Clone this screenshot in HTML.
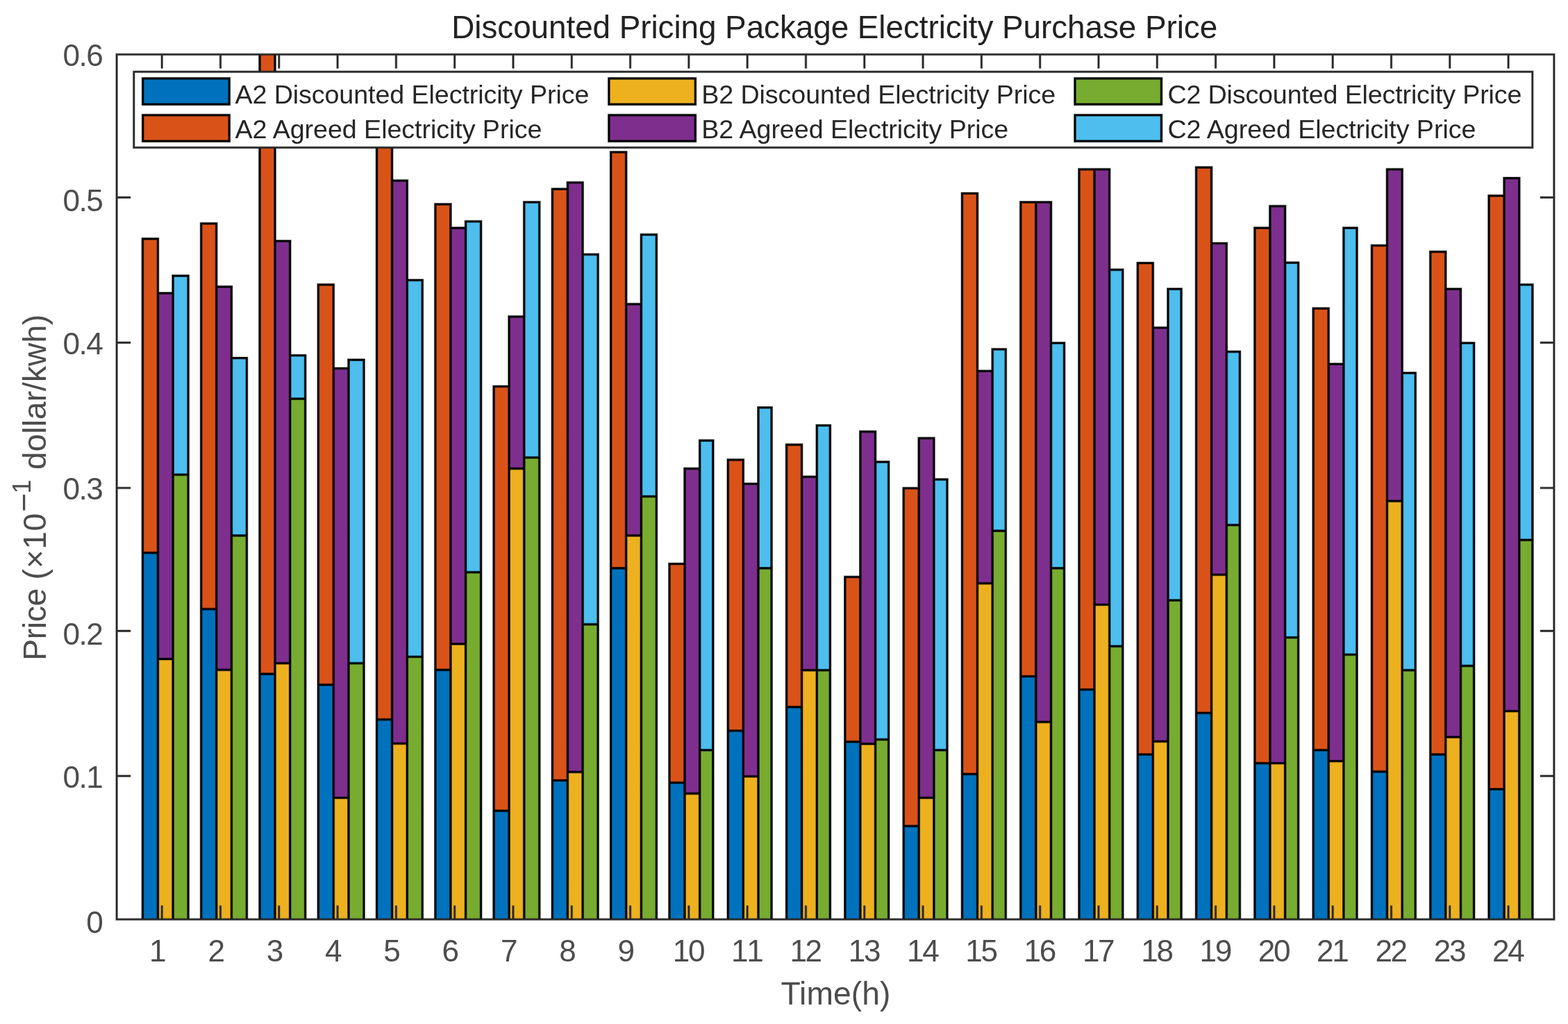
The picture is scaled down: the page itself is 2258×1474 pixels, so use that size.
<!DOCTYPE html>
<html lang="en"><head><meta charset="utf-8"><title>Discounted Pricing Package Electricity Purchase Price</title>
<style>html,body{margin:0;padding:0;background:#fff}body{width:2258px;height:1474px;overflow:hidden}svg{display:block;font-family:"Liberation Sans",sans-serif}</style>
</head><body>
<svg width="2258" height="1474" viewBox="0 0 2258 1474">
<rect width="2258" height="1474" fill="#fff"/>
<defs><clipPath id="ax"><rect x="168.1" y="78.4" width="2069.8" height="1245"/></clipPath></defs>
<g clip-path="url(#ax)">
<g>
<rect x="205.4" y="795.7" width="22" height="527.7" fill="#0072BD"/>
<rect x="205.4" y="343.8" width="22" height="451.9" fill="#D95319"/>
<rect x="227.4" y="948.6" width="21.7" height="374.8" fill="#EDB120"/>
<rect x="227.4" y="422" width="21.7" height="526.6" fill="#7E2F8E"/>
<rect x="249.1" y="683.3" width="22" height="640.1" fill="#77AC30"/>
<rect x="249.1" y="397" width="22" height="286.3" fill="#4DBEEE"/>
<rect x="289.7" y="876.7" width="22" height="446.7" fill="#0072BD"/>
<rect x="289.7" y="321.8" width="22" height="554.9" fill="#D95319"/>
<rect x="311.7" y="964.3" width="21.7" height="359.1" fill="#EDB120"/>
<rect x="311.7" y="412.7" width="21.7" height="551.6" fill="#7E2F8E"/>
<rect x="333.4" y="770.9" width="22" height="552.5" fill="#77AC30"/>
<rect x="333.4" y="515.4" width="22" height="255.5" fill="#4DBEEE"/>
<rect x="374" y="970.1" width="22" height="353.3" fill="#0072BD"/>
<rect x="374" y="40" width="22" height="930.1" fill="#D95319"/>
<rect x="396" y="954.7" width="21.7" height="368.7" fill="#EDB120"/>
<rect x="396" y="347" width="21.7" height="607.7" fill="#7E2F8E"/>
<rect x="417.7" y="574" width="22" height="749.4" fill="#77AC30"/>
<rect x="417.7" y="511.6" width="22" height="62.4" fill="#4DBEEE"/>
<rect x="458.3" y="985.8" width="22" height="337.6" fill="#0072BD"/>
<rect x="458.3" y="409.7" width="22" height="576.1" fill="#D95319"/>
<rect x="480.3" y="1148.4" width="21.7" height="175" fill="#EDB120"/>
<rect x="480.3" y="530.3" width="21.7" height="618.1" fill="#7E2F8E"/>
<rect x="502" y="954.7" width="22" height="368.7" fill="#77AC30"/>
<rect x="502" y="518" width="22" height="436.7" fill="#4DBEEE"/>
<rect x="542.6" y="1035.7" width="22" height="287.7" fill="#0072BD"/>
<rect x="542.6" y="160" width="22" height="875.7" fill="#D95319"/>
<rect x="564.6" y="1070.3" width="21.7" height="253.1" fill="#EDB120"/>
<rect x="564.6" y="260" width="21.7" height="810.3" fill="#7E2F8E"/>
<rect x="586.3" y="945.4" width="22" height="378" fill="#77AC30"/>
<rect x="586.3" y="403.3" width="22" height="542.1" fill="#4DBEEE"/>
<rect x="626.9" y="964.3" width="22" height="359.1" fill="#0072BD"/>
<rect x="626.9" y="294" width="22" height="670.3" fill="#D95319"/>
<rect x="648.9" y="926.9" width="21.7" height="396.5" fill="#EDB120"/>
<rect x="648.9" y="328.1" width="21.7" height="598.8" fill="#7E2F8E"/>
<rect x="670.6" y="823.7" width="22" height="499.7" fill="#77AC30"/>
<rect x="670.6" y="318.8" width="22" height="504.9" fill="#4DBEEE"/>
<rect x="711.1" y="1167.1" width="22" height="156.3" fill="#0072BD"/>
<rect x="711.1" y="556.3" width="22" height="610.8" fill="#D95319"/>
<rect x="733.1" y="674.5" width="21.7" height="648.9" fill="#EDB120"/>
<rect x="733.1" y="455.8" width="21.7" height="218.7" fill="#7E2F8E"/>
<rect x="754.8" y="658.6" width="22" height="664.8" fill="#77AC30"/>
<rect x="754.8" y="291" width="22" height="367.6" fill="#4DBEEE"/>
<rect x="795.4" y="1123.4" width="22" height="200" fill="#0072BD"/>
<rect x="795.4" y="272.1" width="22" height="851.3" fill="#D95319"/>
<rect x="817.4" y="1111.2" width="21.7" height="212.2" fill="#EDB120"/>
<rect x="817.4" y="262.7" width="21.7" height="848.5" fill="#7E2F8E"/>
<rect x="839.1" y="898.7" width="22" height="424.7" fill="#77AC30"/>
<rect x="839.1" y="366.2" width="22" height="532.5" fill="#4DBEEE"/>
<rect x="879.7" y="817.9" width="22" height="505.5" fill="#0072BD"/>
<rect x="879.7" y="219" width="22" height="598.9" fill="#D95319"/>
<rect x="901.7" y="770.9" width="21.7" height="552.5" fill="#EDB120"/>
<rect x="901.7" y="437.7" width="21.7" height="333.2" fill="#7E2F8E"/>
<rect x="923.4" y="714.6" width="22" height="608.8" fill="#77AC30"/>
<rect x="923.4" y="337.7" width="22" height="376.9" fill="#4DBEEE"/>
<rect x="964" y="1126.6" width="22" height="196.8" fill="#0072BD"/>
<rect x="964" y="811.6" width="22" height="315" fill="#D95319"/>
<rect x="986" y="1142.3" width="21.7" height="181.1" fill="#EDB120"/>
<rect x="986" y="674.5" width="21.7" height="467.8" fill="#7E2F8E"/>
<rect x="1007.7" y="1079.7" width="19.1" height="243.7" fill="#77AC30"/>
<rect x="1007.7" y="634.1" width="19.1" height="445.6" fill="#4DBEEE"/>
<rect x="1048.3" y="1051.9" width="22" height="271.5" fill="#0072BD"/>
<rect x="1048.3" y="661.9" width="22" height="390" fill="#D95319"/>
<rect x="1070.3" y="1117.6" width="21.7" height="205.8" fill="#EDB120"/>
<rect x="1070.3" y="696.4" width="21.7" height="421.2" fill="#7E2F8E"/>
<rect x="1092" y="817.9" width="19.1" height="505.5" fill="#77AC30"/>
<rect x="1092" y="586.6" width="19.1" height="231.3" fill="#4DBEEE"/>
<rect x="1132.6" y="1017.8" width="22" height="305.6" fill="#0072BD"/>
<rect x="1132.6" y="640.1" width="22" height="377.7" fill="#D95319"/>
<rect x="1154.6" y="964.8" width="21.7" height="358.6" fill="#EDB120"/>
<rect x="1154.6" y="686.3" width="21.7" height="278.5" fill="#7E2F8E"/>
<rect x="1176.3" y="964.8" width="19.1" height="358.6" fill="#77AC30"/>
<rect x="1176.3" y="612.4" width="19.1" height="352.4" fill="#4DBEEE"/>
<rect x="1216.9" y="1067.8" width="22" height="255.6" fill="#0072BD"/>
<rect x="1216.9" y="830.5" width="22" height="237.3" fill="#D95319"/>
<rect x="1238.9" y="1070.8" width="21.7" height="252.6" fill="#EDB120"/>
<rect x="1238.9" y="621.2" width="21.7" height="449.6" fill="#7E2F8E"/>
<rect x="1260.6" y="1064.5" width="19.1" height="258.9" fill="#77AC30"/>
<rect x="1260.6" y="664.9" width="19.1" height="399.6" fill="#4DBEEE"/>
<rect x="1301.2" y="1189.1" width="22" height="134.3" fill="#0072BD"/>
<rect x="1301.2" y="702.8" width="22" height="486.3" fill="#D95319"/>
<rect x="1323.2" y="1148.4" width="21.7" height="175" fill="#EDB120"/>
<rect x="1323.2" y="630.8" width="21.7" height="517.6" fill="#7E2F8E"/>
<rect x="1344.9" y="1079.7" width="19.1" height="243.7" fill="#77AC30"/>
<rect x="1344.9" y="690.1" width="19.1" height="389.6" fill="#4DBEEE"/>
<rect x="1385.5" y="1114.2" width="22" height="209.2" fill="#0072BD"/>
<rect x="1385.5" y="278.4" width="22" height="835.8" fill="#D95319"/>
<rect x="1407.5" y="839.8" width="21.7" height="483.6" fill="#EDB120"/>
<rect x="1407.5" y="534.1" width="21.7" height="305.7" fill="#7E2F8E"/>
<rect x="1429.2" y="764.1" width="19.1" height="559.3" fill="#77AC30"/>
<rect x="1429.2" y="502.8" width="19.1" height="261.3" fill="#4DBEEE"/>
<rect x="1469.8" y="973.6" width="22" height="349.8" fill="#0072BD"/>
<rect x="1469.8" y="291" width="22" height="682.6" fill="#D95319"/>
<rect x="1491.8" y="1039.3" width="21.7" height="284.1" fill="#EDB120"/>
<rect x="1491.8" y="291" width="21.7" height="748.3" fill="#7E2F8E"/>
<rect x="1513.5" y="817.9" width="19.1" height="505.5" fill="#77AC30"/>
<rect x="1513.5" y="493.7" width="19.1" height="324.2" fill="#4DBEEE"/>
<rect x="1554" y="992.6" width="22" height="330.8" fill="#0072BD"/>
<rect x="1554" y="243.8" width="22" height="748.8" fill="#D95319"/>
<rect x="1576" y="870.4" width="21.7" height="453" fill="#EDB120"/>
<rect x="1576" y="243.8" width="21.7" height="626.6" fill="#7E2F8E"/>
<rect x="1597.7" y="930.2" width="19.1" height="393.2" fill="#77AC30"/>
<rect x="1597.7" y="388.2" width="19.1" height="542" fill="#4DBEEE"/>
<rect x="1638.3" y="1086" width="22" height="237.4" fill="#0072BD"/>
<rect x="1638.3" y="378.6" width="22" height="707.4" fill="#D95319"/>
<rect x="1660.3" y="1067.3" width="21.7" height="256.1" fill="#EDB120"/>
<rect x="1660.3" y="471.8" width="21.7" height="595.5" fill="#7E2F8E"/>
<rect x="1682" y="864.1" width="19.1" height="459.3" fill="#77AC30"/>
<rect x="1682" y="416" width="19.1" height="448.1" fill="#4DBEEE"/>
<rect x="1722.6" y="1026.2" width="22" height="297.2" fill="#0072BD"/>
<rect x="1722.6" y="241" width="22" height="785.2" fill="#D95319"/>
<rect x="1744.6" y="827.2" width="21.7" height="496.2" fill="#EDB120"/>
<rect x="1744.6" y="350.3" width="21.7" height="476.9" fill="#7E2F8E"/>
<rect x="1766.3" y="755.8" width="19.1" height="567.6" fill="#77AC30"/>
<rect x="1766.3" y="506.3" width="19.1" height="249.5" fill="#4DBEEE"/>
<rect x="1806.9" y="1098.6" width="22" height="224.8" fill="#0072BD"/>
<rect x="1806.9" y="328.1" width="22" height="770.5" fill="#D95319"/>
<rect x="1828.9" y="1098.6" width="21.7" height="224.8" fill="#EDB120"/>
<rect x="1828.9" y="296.8" width="21.7" height="801.8" fill="#7E2F8E"/>
<rect x="1850.6" y="917.6" width="19.1" height="405.8" fill="#77AC30"/>
<rect x="1850.6" y="378.1" width="19.1" height="539.5" fill="#4DBEEE"/>
<rect x="1891.2" y="1079.7" width="22" height="243.7" fill="#0072BD"/>
<rect x="1891.2" y="444" width="22" height="635.7" fill="#D95319"/>
<rect x="1913.2" y="1095.6" width="21.7" height="227.8" fill="#EDB120"/>
<rect x="1913.2" y="524" width="21.7" height="571.6" fill="#7E2F8E"/>
<rect x="1934.9" y="942.3" width="19.1" height="381.1" fill="#77AC30"/>
<rect x="1934.9" y="328.1" width="19.1" height="614.2" fill="#4DBEEE"/>
<rect x="1975.5" y="1110.7" width="22" height="212.7" fill="#0072BD"/>
<rect x="1975.5" y="353.4" width="22" height="757.3" fill="#D95319"/>
<rect x="1997.5" y="721.2" width="21.7" height="602.2" fill="#EDB120"/>
<rect x="1997.5" y="243.8" width="21.7" height="477.4" fill="#7E2F8E"/>
<rect x="2019.2" y="964.8" width="19.1" height="358.6" fill="#77AC30"/>
<rect x="2019.2" y="536.9" width="19.1" height="427.9" fill="#4DBEEE"/>
<rect x="2059.8" y="1086" width="22" height="237.4" fill="#0072BD"/>
<rect x="2059.8" y="362.4" width="22" height="723.6" fill="#D95319"/>
<rect x="2081.8" y="1061" width="21.7" height="262.4" fill="#EDB120"/>
<rect x="2081.8" y="416" width="21.7" height="645" fill="#7E2F8E"/>
<rect x="2103.5" y="958.5" width="19.1" height="364.9" fill="#77AC30"/>
<rect x="2103.5" y="493.7" width="19.1" height="464.8" fill="#4DBEEE"/>
<rect x="2144.1" y="1136" width="22" height="187.4" fill="#0072BD"/>
<rect x="2144.1" y="281.7" width="22" height="854.3" fill="#D95319"/>
<rect x="2166.1" y="1023.6" width="21.7" height="299.8" fill="#EDB120"/>
<rect x="2166.1" y="256.4" width="21.7" height="767.2" fill="#7E2F8E"/>
<rect x="2187.8" y="777.2" width="19.1" height="546.2" fill="#77AC30"/>
<rect x="2187.8" y="409.7" width="19.1" height="367.5" fill="#4DBEEE"/>
</g>
<path id="bo" d="M205.4 1323.4V343.8H227.4V1323.4M205.4 795.7H227.4M227.4 1323.4V422H249.1V1323.4M227.4 948.6H249.1M249.1 1323.4V397H271.1V1323.4M249.1 683.3H271.1M289.7 1323.4V321.8H311.7V1323.4M289.7 876.7H311.7M311.7 1323.4V412.7H333.4V1323.4M311.7 964.3H333.4M333.4 1323.4V515.4H355.4V1323.4M333.4 770.9H355.4M374 1323.4V40H396V1323.4M374 970.1H396M396 1323.4V347H417.7V1323.4M396 954.7H417.7M417.7 1323.4V511.6H439.7V1323.4M417.7 574H439.7M458.3 1323.4V409.7H480.3V1323.4M458.3 985.8H480.3M480.3 1323.4V530.3H502V1323.4M480.3 1148.4H502M502 1323.4V518H524V1323.4M502 954.7H524M542.6 1323.4V160H564.6V1323.4M542.6 1035.7H564.6M564.6 1323.4V260H586.3V1323.4M564.6 1070.3H586.3M586.3 1323.4V403.3H608.3V1323.4M586.3 945.4H608.3M626.9 1323.4V294H648.9V1323.4M626.9 964.3H648.9M648.9 1323.4V328.1H670.6V1323.4M648.9 926.9H670.6M670.6 1323.4V318.8H692.6V1323.4M670.6 823.7H692.6M711.1 1323.4V556.3H733.1V1323.4M711.1 1167.1H733.1M733.1 1323.4V455.8H754.8V1323.4M733.1 674.5H754.8M754.8 1323.4V291H776.8V1323.4M754.8 658.6H776.8M795.4 1323.4V272.1H817.4V1323.4M795.4 1123.4H817.4M817.4 1323.4V262.7H839.1V1323.4M817.4 1111.2H839.1M839.1 1323.4V366.2H861.1V1323.4M839.1 898.7H861.1M879.7 1323.4V219H901.7V1323.4M879.7 817.9H901.7M901.7 1323.4V437.7H923.4V1323.4M901.7 770.9H923.4M923.4 1323.4V337.7H945.4V1323.4M923.4 714.6H945.4M964 1323.4V811.6H986V1323.4M964 1126.6H986M986 1323.4V674.5H1007.7V1323.4M986 1142.3H1007.7M1007.7 1323.4V634.1H1026.8V1323.4M1007.7 1079.7H1026.8M1048.3 1323.4V661.9H1070.3V1323.4M1048.3 1051.9H1070.3M1070.3 1323.4V696.4H1092V1323.4M1070.3 1117.6H1092M1092 1323.4V586.6H1111.1V1323.4M1092 817.9H1111.1M1132.6 1323.4V640.1H1154.6V1323.4M1132.6 1017.8H1154.6M1154.6 1323.4V686.3H1176.3V1323.4M1154.6 964.8H1176.3M1176.3 1323.4V612.4H1195.4V1323.4M1176.3 964.8H1195.4M1216.9 1323.4V830.5H1238.9V1323.4M1216.9 1067.8H1238.9M1238.9 1323.4V621.2H1260.6V1323.4M1238.9 1070.8H1260.6M1260.6 1323.4V664.9H1279.7V1323.4M1260.6 1064.5H1279.7M1301.2 1323.4V702.8H1323.2V1323.4M1301.2 1189.1H1323.2M1323.2 1323.4V630.8H1344.9V1323.4M1323.2 1148.4H1344.9M1344.9 1323.4V690.1H1364V1323.4M1344.9 1079.7H1364M1385.5 1323.4V278.4H1407.5V1323.4M1385.5 1114.2H1407.5M1407.5 1323.4V534.1H1429.2V1323.4M1407.5 839.8H1429.2M1429.2 1323.4V502.8H1448.3V1323.4M1429.2 764.1H1448.3M1469.8 1323.4V291H1491.8V1323.4M1469.8 973.6H1491.8M1491.8 1323.4V291H1513.5V1323.4M1491.8 1039.3H1513.5M1513.5 1323.4V493.7H1532.6V1323.4M1513.5 817.9H1532.6M1554 1323.4V243.8H1576V1323.4M1554 992.6H1576M1576 1323.4V243.8H1597.7V1323.4M1576 870.4H1597.7M1597.7 1323.4V388.2H1616.8V1323.4M1597.7 930.2H1616.8M1638.3 1323.4V378.6H1660.3V1323.4M1638.3 1086H1660.3M1660.3 1323.4V471.8H1682V1323.4M1660.3 1067.3H1682M1682 1323.4V416H1701.1V1323.4M1682 864.1H1701.1M1722.6 1323.4V241H1744.6V1323.4M1722.6 1026.2H1744.6M1744.6 1323.4V350.3H1766.3V1323.4M1744.6 827.2H1766.3M1766.3 1323.4V506.3H1785.4V1323.4M1766.3 755.8H1785.4M1806.9 1323.4V328.1H1828.9V1323.4M1806.9 1098.6H1828.9M1828.9 1323.4V296.8H1850.6V1323.4M1828.9 1098.6H1850.6M1850.6 1323.4V378.1H1869.7V1323.4M1850.6 917.6H1869.7M1891.2 1323.4V444H1913.2V1323.4M1891.2 1079.7H1913.2M1913.2 1323.4V524H1934.9V1323.4M1913.2 1095.6H1934.9M1934.9 1323.4V328.1H1954V1323.4M1934.9 942.3H1954M1975.5 1323.4V353.4H1997.5V1323.4M1975.5 1110.7H1997.5M1997.5 1323.4V243.8H2019.2V1323.4M1997.5 721.2H2019.2M2019.2 1323.4V536.9H2038.3V1323.4M2019.2 964.8H2038.3M2059.8 1323.4V362.4H2081.8V1323.4M2059.8 1086H2081.8M2081.8 1323.4V416H2103.5V1323.4M2081.8 1061H2103.5M2103.5 1323.4V493.7H2122.6V1323.4M2103.5 958.5H2122.6M2144.1 1323.4V281.7H2166.1V1323.4M2144.1 1136H2166.1M2166.1 1323.4V256.4H2187.8V1323.4M2166.1 1023.6H2187.8M2187.8 1323.4V409.7H2206.9V1323.4M2187.8 777.2H2206.9" fill="none" stroke="#000" stroke-width="3.9" stroke-opacity="0.5"/>
<path d="M205.4 1323.4V343.8H227.4V1323.4M205.4 795.7H227.4M227.4 1323.4V422H249.1V1323.4M227.4 948.6H249.1M249.1 1323.4V397H271.1V1323.4M249.1 683.3H271.1M289.7 1323.4V321.8H311.7V1323.4M289.7 876.7H311.7M311.7 1323.4V412.7H333.4V1323.4M311.7 964.3H333.4M333.4 1323.4V515.4H355.4V1323.4M333.4 770.9H355.4M374 1323.4V40H396V1323.4M374 970.1H396M396 1323.4V347H417.7V1323.4M396 954.7H417.7M417.7 1323.4V511.6H439.7V1323.4M417.7 574H439.7M458.3 1323.4V409.7H480.3V1323.4M458.3 985.8H480.3M480.3 1323.4V530.3H502V1323.4M480.3 1148.4H502M502 1323.4V518H524V1323.4M502 954.7H524M542.6 1323.4V160H564.6V1323.4M542.6 1035.7H564.6M564.6 1323.4V260H586.3V1323.4M564.6 1070.3H586.3M586.3 1323.4V403.3H608.3V1323.4M586.3 945.4H608.3M626.9 1323.4V294H648.9V1323.4M626.9 964.3H648.9M648.9 1323.4V328.1H670.6V1323.4M648.9 926.9H670.6M670.6 1323.4V318.8H692.6V1323.4M670.6 823.7H692.6M711.1 1323.4V556.3H733.1V1323.4M711.1 1167.1H733.1M733.1 1323.4V455.8H754.8V1323.4M733.1 674.5H754.8M754.8 1323.4V291H776.8V1323.4M754.8 658.6H776.8M795.4 1323.4V272.1H817.4V1323.4M795.4 1123.4H817.4M817.4 1323.4V262.7H839.1V1323.4M817.4 1111.2H839.1M839.1 1323.4V366.2H861.1V1323.4M839.1 898.7H861.1M879.7 1323.4V219H901.7V1323.4M879.7 817.9H901.7M901.7 1323.4V437.7H923.4V1323.4M901.7 770.9H923.4M923.4 1323.4V337.7H945.4V1323.4M923.4 714.6H945.4M964 1323.4V811.6H986V1323.4M964 1126.6H986M986 1323.4V674.5H1007.7V1323.4M986 1142.3H1007.7M1007.7 1323.4V634.1H1026.8V1323.4M1007.7 1079.7H1026.8M1048.3 1323.4V661.9H1070.3V1323.4M1048.3 1051.9H1070.3M1070.3 1323.4V696.4H1092V1323.4M1070.3 1117.6H1092M1092 1323.4V586.6H1111.1V1323.4M1092 817.9H1111.1M1132.6 1323.4V640.1H1154.6V1323.4M1132.6 1017.8H1154.6M1154.6 1323.4V686.3H1176.3V1323.4M1154.6 964.8H1176.3M1176.3 1323.4V612.4H1195.4V1323.4M1176.3 964.8H1195.4M1216.9 1323.4V830.5H1238.9V1323.4M1216.9 1067.8H1238.9M1238.9 1323.4V621.2H1260.6V1323.4M1238.9 1070.8H1260.6M1260.6 1323.4V664.9H1279.7V1323.4M1260.6 1064.5H1279.7M1301.2 1323.4V702.8H1323.2V1323.4M1301.2 1189.1H1323.2M1323.2 1323.4V630.8H1344.9V1323.4M1323.2 1148.4H1344.9M1344.9 1323.4V690.1H1364V1323.4M1344.9 1079.7H1364M1385.5 1323.4V278.4H1407.5V1323.4M1385.5 1114.2H1407.5M1407.5 1323.4V534.1H1429.2V1323.4M1407.5 839.8H1429.2M1429.2 1323.4V502.8H1448.3V1323.4M1429.2 764.1H1448.3M1469.8 1323.4V291H1491.8V1323.4M1469.8 973.6H1491.8M1491.8 1323.4V291H1513.5V1323.4M1491.8 1039.3H1513.5M1513.5 1323.4V493.7H1532.6V1323.4M1513.5 817.9H1532.6M1554 1323.4V243.8H1576V1323.4M1554 992.6H1576M1576 1323.4V243.8H1597.7V1323.4M1576 870.4H1597.7M1597.7 1323.4V388.2H1616.8V1323.4M1597.7 930.2H1616.8M1638.3 1323.4V378.6H1660.3V1323.4M1638.3 1086H1660.3M1660.3 1323.4V471.8H1682V1323.4M1660.3 1067.3H1682M1682 1323.4V416H1701.1V1323.4M1682 864.1H1701.1M1722.6 1323.4V241H1744.6V1323.4M1722.6 1026.2H1744.6M1744.6 1323.4V350.3H1766.3V1323.4M1744.6 827.2H1766.3M1766.3 1323.4V506.3H1785.4V1323.4M1766.3 755.8H1785.4M1806.9 1323.4V328.1H1828.9V1323.4M1806.9 1098.6H1828.9M1828.9 1323.4V296.8H1850.6V1323.4M1828.9 1098.6H1850.6M1850.6 1323.4V378.1H1869.7V1323.4M1850.6 917.6H1869.7M1891.2 1323.4V444H1913.2V1323.4M1891.2 1079.7H1913.2M1913.2 1323.4V524H1934.9V1323.4M1913.2 1095.6H1934.9M1934.9 1323.4V328.1H1954V1323.4M1934.9 942.3H1954M1975.5 1323.4V353.4H1997.5V1323.4M1975.5 1110.7H1997.5M1997.5 1323.4V243.8H2019.2V1323.4M1997.5 721.2H2019.2M2019.2 1323.4V536.9H2038.3V1323.4M2019.2 964.8H2038.3M2059.8 1323.4V362.4H2081.8V1323.4M2059.8 1086H2081.8M2081.8 1323.4V416H2103.5V1323.4M2081.8 1061H2103.5M2103.5 1323.4V493.7H2122.6V1323.4M2103.5 958.5H2122.6M2144.1 1323.4V281.7H2166.1V1323.4M2144.1 1136H2166.1M2166.1 1323.4V256.4H2187.8V1323.4M2166.1 1023.6H2187.8M2187.8 1323.4V409.7H2206.9V1323.4M2187.8 777.2H2206.9" fill="none" stroke="#000" stroke-width="2.6"/>
</g>
<path d="M168.1 78.4H2237.9V1323.4H168.1ZM233.2 1323.4v-20M233.2 78.4v20M317.5 1323.4v-20M317.5 78.4v20M401.8 1323.4v-20M401.8 78.4v20M486.1 1323.4v-20M486.1 78.4v20M570.4 1323.4v-20M570.4 78.4v20M654.7 1323.4v-20M654.7 78.4v20M739 1323.4v-20M739 78.4v20M823.3 1323.4v-20M823.3 78.4v20M907.6 1323.4v-20M907.6 78.4v20M991.9 1323.4v-20M991.9 78.4v20M1076.2 1323.4v-20M1076.2 78.4v20M1160.5 1323.4v-20M1160.5 78.4v20M1244.8 1323.4v-20M1244.8 78.4v20M1329.1 1323.4v-20M1329.1 78.4v20M1413.4 1323.4v-20M1413.4 78.4v20M1497.7 1323.4v-20M1497.7 78.4v20M1582 1323.4v-20M1582 78.4v20M1666.3 1323.4v-20M1666.3 78.4v20M1750.6 1323.4v-20M1750.6 78.4v20M1834.9 1323.4v-20M1834.9 78.4v20M1919.2 1323.4v-20M1919.2 78.4v20M2003.5 1323.4v-20M2003.5 78.4v20M2087.8 1323.4v-20M2087.8 78.4v20M2172.1 1323.4v-20M2172.1 78.4v20M168.1 284.2h20M2237.9 284.2h-20M168.1 493.2h20M2237.9 493.2h-20M168.1 702.4h20M2237.9 702.4h-20M168.1 908.2h20M2237.9 908.2h-20M168.1 1117h20M2237.9 1117h-20" fill="none" stroke="#262626" stroke-width="3.7" stroke-opacity="0.42"/>
<path d="M168.1 78.4H2237.9V1323.4H168.1ZM233.2 1323.4v-20M233.2 78.4v20M317.5 1323.4v-20M317.5 78.4v20M401.8 1323.4v-20M401.8 78.4v20M486.1 1323.4v-20M486.1 78.4v20M570.4 1323.4v-20M570.4 78.4v20M654.7 1323.4v-20M654.7 78.4v20M739 1323.4v-20M739 78.4v20M823.3 1323.4v-20M823.3 78.4v20M907.6 1323.4v-20M907.6 78.4v20M991.9 1323.4v-20M991.9 78.4v20M1076.2 1323.4v-20M1076.2 78.4v20M1160.5 1323.4v-20M1160.5 78.4v20M1244.8 1323.4v-20M1244.8 78.4v20M1329.1 1323.4v-20M1329.1 78.4v20M1413.4 1323.4v-20M1413.4 78.4v20M1497.7 1323.4v-20M1497.7 78.4v20M1582 1323.4v-20M1582 78.4v20M1666.3 1323.4v-20M1666.3 78.4v20M1750.6 1323.4v-20M1750.6 78.4v20M1834.9 1323.4v-20M1834.9 78.4v20M1919.2 1323.4v-20M1919.2 78.4v20M2003.5 1323.4v-20M2003.5 78.4v20M2087.8 1323.4v-20M2087.8 78.4v20M2172.1 1323.4v-20M2172.1 78.4v20M168.1 284.2h20M2237.9 284.2h-20M168.1 493.2h20M2237.9 493.2h-20M168.1 702.4h20M2237.9 702.4h-20M168.1 908.2h20M2237.9 908.2h-20M168.1 1117h20M2237.9 1117h-20" fill="none" stroke="#262626" stroke-width="2.35"/>
<g font-size="44.2" fill="#4d4d4d" text-anchor="middle">
<text x="227.4" y="1384.3">1</text>
<text x="311.7" y="1384.3">2</text>
<text x="396" y="1384.3">3</text>
<text x="480.3" y="1384.3">4</text>
<text x="564.6" y="1384.3">5</text>
<text x="648.9" y="1384.3">6</text>
<text x="733.2" y="1384.3">7</text>
<text x="817.5" y="1384.3">8</text>
<text x="901.8" y="1384.3">9</text>
<text x="992.2" y="1384.3" textLength="46.8" lengthAdjust="spacing">10</text>
<text x="1076.5" y="1384.3" textLength="46.8" lengthAdjust="spacing">11</text>
<text x="1160.8" y="1384.3" textLength="46.8" lengthAdjust="spacing">12</text>
<text x="1245.1" y="1384.3" textLength="46.8" lengthAdjust="spacing">13</text>
<text x="1329.4" y="1384.3" textLength="46.8" lengthAdjust="spacing">14</text>
<text x="1413.7" y="1384.3" textLength="46.8" lengthAdjust="spacing">15</text>
<text x="1498" y="1384.3" textLength="46.8" lengthAdjust="spacing">16</text>
<text x="1582.3" y="1384.3" textLength="46.8" lengthAdjust="spacing">17</text>
<text x="1666.6" y="1384.3" textLength="46.8" lengthAdjust="spacing">18</text>
<text x="1750.9" y="1384.3" textLength="46.8" lengthAdjust="spacing">19</text>
<text x="1835.2" y="1384.3" textLength="46.8" lengthAdjust="spacing">20</text>
<text x="1919.5" y="1384.3" textLength="46.8" lengthAdjust="spacing">21</text>
<text x="2003.8" y="1384.3" textLength="46.8" lengthAdjust="spacing">22</text>
<text x="2088.1" y="1384.3" textLength="46.8" lengthAdjust="spacing">23</text>
<text x="2172.4" y="1384.3" textLength="46.8" lengthAdjust="spacing">24</text>
</g>
<g font-size="44.2" fill="#4d4d4d" text-anchor="end">
<text x="148.8" y="94.7" textLength="58.4" lengthAdjust="spacing">0.6</text>
<text x="148.8" y="304.2" textLength="58.4" lengthAdjust="spacing">0.5</text>
<text x="148.8" y="510.2" textLength="58.4" lengthAdjust="spacing">0.4</text>
<text x="148.8" y="718.9" textLength="58.4" lengthAdjust="spacing">0.3</text>
<text x="148.8" y="927.8" textLength="58.4" lengthAdjust="spacing">0.2</text>
<text x="148.8" y="1134.2" textLength="58.4" lengthAdjust="spacing">0.1</text>
<text x="148.8" y="1343">0</text>
</g>
<text x="1124.5" y="1446" font-size="46.3" fill="#4d4d4d" textLength="158" lengthAdjust="spacing">Time(h)</text>
<text x="650.2" y="54.9" font-size="45.9" fill="#222" textLength="1103" lengthAdjust="spacing">Discounted Pricing Package Electricity Purchase Price</text>
<g transform="translate(66,0) rotate(-90)" font-size="46.3" fill="#4d4d4d">
<text x="-950.8" y="0" textLength="131.6" lengthAdjust="spacing">Price (</text>
<text x="-818.3" y="0" textLength="79.5" lengthAdjust="spacing">×10</text>
<text x="-737.1" y="-16.5">−</text>
<text x="-710.6" y="-22.4" font-size="36">1</text>
<text x="-675.9" y="0" textLength="223.4" lengthAdjust="spacing">dollar/kwh)</text>
</g>
<rect x="192.8" y="103.3" width="2014" height="109.1" fill="#fff" stroke="#262626" stroke-width="3.7" stroke-opacity="0.42"/>
<rect x="192.8" y="103.3" width="2014" height="109.1" fill="none" stroke="#262626" stroke-width="2.35"/>
<g stroke="#000" stroke-width="3.9" stroke-opacity="0.5">
<rect x="205.7" y="112.9" width="124.5" height="37.3" fill="#0072BD"/>
<rect x="205.7" y="165.7" width="124.5" height="37.5" fill="#D95319"/>
<rect x="876.9" y="112.9" width="124.5" height="37.3" fill="#EDB120"/>
<rect x="876.9" y="165.7" width="124.5" height="37.5" fill="#7E2F8E"/>
<rect x="1548" y="112.9" width="124.5" height="37.3" fill="#77AC30"/>
<rect x="1548" y="165.7" width="124.5" height="37.5" fill="#4DBEEE"/>
</g>
<g stroke="#000" stroke-width="2.6" stroke-opacity="1">
<rect x="205.7" y="112.9" width="124.5" height="37.3" fill="none"/>
<rect x="205.7" y="165.7" width="124.5" height="37.5" fill="none"/>
<rect x="876.9" y="112.9" width="124.5" height="37.3" fill="none"/>
<rect x="876.9" y="165.7" width="124.5" height="37.5" fill="none"/>
<rect x="1548" y="112.9" width="124.5" height="37.3" fill="none"/>
<rect x="1548" y="165.7" width="124.5" height="37.5" fill="none"/>
</g>
<g font-size="37.7" fill="#262626">
<text x="338.4" y="148.9" textLength="510" lengthAdjust="spacing">A2 Discounted Electricity Price</text>
<text x="338.4" y="198.9" textLength="442" lengthAdjust="spacing">A2 Agreed Electricity Price</text>
<text x="1010.2" y="148.9" textLength="510" lengthAdjust="spacing">B2 Discounted Electricity Price</text>
<text x="1010.2" y="198.9" textLength="442" lengthAdjust="spacing">B2 Agreed Electricity Price</text>
<text x="1681.4" y="148.9" textLength="510" lengthAdjust="spacing">C2 Discounted Electricity Price</text>
<text x="1681.4" y="198.9" textLength="444" lengthAdjust="spacing">C2 Agreed Electricity Price</text>
</g>
</svg>
</body></html>
